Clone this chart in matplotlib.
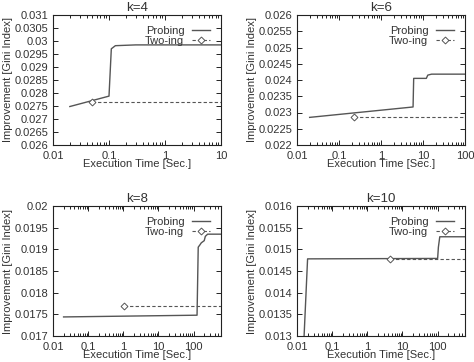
import matplotlib
matplotlib.use('Agg')
import matplotlib.pyplot as plt
from matplotlib.lines import Line2D
from matplotlib.ticker import LogLocator, FixedLocator, FixedFormatter

plt.rcParams['font.family'] = ['Liberation Sans', 'DejaVu Sans']
plt.rcParams['font.size'] = 8

# k=4
k4_probe_t = [0.02, 0.1, 0.11, 0.13, 0.3, 10]
k4_probe_v = [0.02748, 0.02788, 0.0297, 0.02982, 0.02985, 0.02985]
k4_two_t = [0.05, 10]
k4_two_v = [0.02765, 0.02765]

# k=6
k6_probe_t = [0.02, 5.8, 6.0, 12, 13, 16, 100]
k6_probe_v = [0.02285, 0.02317, 0.02405, 0.02405, 0.02415, 0.02418, 0.02418]
k6_two_t = [0.23, 100]
k6_two_v = [0.02287, 0.02287]

# k=8
k8_probe_t = [0.02, 125, 135, 150, 165, 200, 215, 250, 600]
k8_probe_v = [0.01744, 0.01748, 0.01905, 0.0191, 0.01915, 0.0192, 0.0193, 0.01935, 0.01935]
k8_two_t = [1.05, 600]
k8_two_v = [0.01769, 0.01769]

# k=10
k10_probe_t = [0.0155, 0.02, 100, 105, 115, 600]
k10_probe_v = [0.0128, 0.01478, 0.01479, 0.01505, 0.01529, 0.01529]
k10_two_t = [4.5, 600]
k10_two_v = [0.01478, 0.01478]

panels = [
    ('k=4', k4_probe_t, k4_probe_v, k4_two_t, k4_two_v, (0.01, 10), (0.026, 0.031),
     ['0.026', '0.0265', '0.027', '0.0275', '0.028', '0.0285', '0.029', '0.0295', '0.03', '0.0305', '0.031'],
     ['0.01', '0.1', '1', '10']),
    ('k=6', k6_probe_t, k6_probe_v, k6_two_t, k6_two_v, (0.01, 100), (0.022, 0.026),
     ['0.022', '0.0225', '0.023', '0.0235', '0.024', '0.0245', '0.025', '0.0255', '0.026'],
     ['0.01', '0.1', '1', '10', '100']),
    ('k=8', k8_probe_t, k8_probe_v, k8_two_t, k8_two_v, (0.01, 600), (0.017, 0.020),
     ['0.017', '0.0175', '0.018', '0.0185', '0.019', '0.0195', '0.02'],
     ['0.01', '0.1', '1', '10', '100']),
    ('k=10', k10_probe_t, k10_probe_v, k10_two_t, k10_two_v, (0.01, 600), (0.013, 0.016),
     ['0.013', '0.0135', '0.014', '0.0145', '0.015', '0.0155', '0.016'],
     ['0.01', '0.1', '1', '10', '100']),
]

# axes boxes in pixels: left, top, right, bottom
boxes = [(53, 15, 221, 145), (297, 15, 465, 145), (53, 206, 221, 336), (297, 206, 465, 336)]

W, H = 474, 362
fig = plt.figure(figsize=(W / 100, H / 100), dpi=100)
line_c = '#555555'
text_c = '#333333'
two_style = dict(color=line_c, lw=0.8, ls=(0, (3, 2)), marker='D', markersize=3.5,
                 markerfacecolor='white', markeredgecolor=line_c, markeredgewidth=0.7)

for (title, pt, pv, tt, tv, xl, yl, ylabels, xlabels), (l, t, r, b) in zip(panels, boxes):
    ax = fig.add_axes([l / W, 1 - b / H, (r - l) / W, (b - t) / H])
    ax.plot(pt, pv, color=line_c, lw=1.0)
    ax.plot(tt, tv, markevery=[0], **two_style)
    ax.set_xscale('log')
    ax.set_xlim(*xl)
    ax.set_ylim(*yl)
    yvals = [float(s) for s in ylabels]
    ax.yaxis.set_major_locator(FixedLocator(yvals))
    ax.yaxis.set_major_formatter(FixedFormatter(ylabels))
    xvals = [float(s) for s in xlabels]
    ax.xaxis.set_major_locator(FixedLocator(xvals))
    ax.xaxis.set_major_formatter(FixedFormatter(xlabels))
    ax.xaxis.set_minor_locator(LogLocator(base=10, subs=range(2, 10)))
    ax.tick_params(which='both', direction='in', top=True, right=True, colors='#222222',
                   labelcolor=text_c, width=0.7)
    ax.tick_params(which='major', length=3.5)
    ax.tick_params(which='minor', length=2)
    ax.tick_params(axis='x', pad=4)
    ax.tick_params(axis='y', pad=3.5)
    for s in ax.spines.values():
        s.set_linewidth(0.8)
        s.set_color('#222222')
    ax.set_title(title, color=text_c, pad=3)
    ax.set_xlabel('Execution Time [Sec.]', color=text_c, labelpad=-1)
    ax.set_ylabel('Improvement [Gini Index]', color=text_c, labelpad=1)
    handles = [Line2D([], [], color=line_c, lw=1.0), Line2D([], [], **two_style)]
    leg = ax.legend(handles, ['Probing', 'Two-ing'], loc='upper right', frameon=False,
                    markerfirst=False, handlelength=1.6, handletextpad=0.7,
                    borderaxespad=0.7, borderpad=0.3, labelspacing=0.0)
    for txt in leg.get_texts():
        txt.set_color(text_c)

fig.savefig('out.png', dpi=100)
